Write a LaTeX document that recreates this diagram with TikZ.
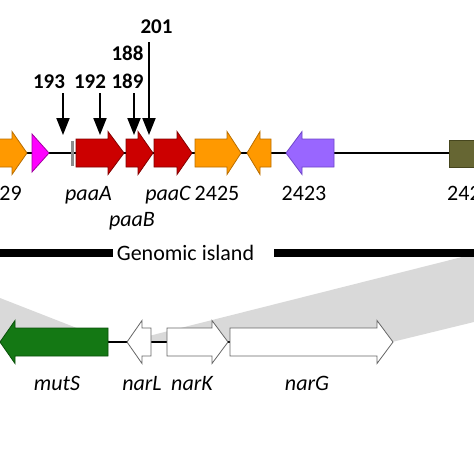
\documentclass[tikz,border=0pt]{standalone}
\usepackage{fontspec}
\setmainfont{Carlito}
\usepackage{xcolor}
\usetikzlibrary{arrows.meta}

\definecolor{redfill}{RGB}{204,0,0}
\definecolor{redline}{RGB}{130,0,0}
\definecolor{orangefill}{RGB}{255,153,0}
\definecolor{orangeline}{RGB}{185,110,0}
\definecolor{magentafill}{RGB}{255,0,255}
\definecolor{magentaline}{RGB}{160,0,160}
\definecolor{purplefill}{RGB}{153,102,255}
\definecolor{purpleline}{RGB}{110,70,200}
\definecolor{olivefill}{RGB}{102,102,51}
\definecolor{oliveline}{RGB}{70,70,30}
\definecolor{greenfill}{RGB}{20,120,20}
\definecolor{greenline}{RGB}{10,80,10}
\definecolor{syntenygray}{RGB}{217,217,217}

% gene arrows: style, start x, head base x, tip x, axis y
\newcommand{\generight}[5]{\draw[#1] ({#2},{#5-14}) -- ({#3},{#5-14}) -- ({#3},{#5-21.5}) -- ({#4},{#5}) -- ({#3},{#5+21.5}) -- ({#3},{#5+14}) -- ({#2},{#5+14}) -- cycle;}
% style, tip x, head base x, end x, axis y
\newcommand{\geneleft}[5]{\draw[#1] ({#4},{#5-14}) -- ({#3},{#5-14}) -- ({#3},{#5-21.5}) -- ({#2},{#5}) -- ({#3},{#5+21.5}) -- ({#3},{#5+14}) -- ({#4},{#5+14}) -- cycle;}

\begin{document}
\begin{tikzpicture}[x=1pt,y=-1pt]
\tikzstyle{track}=[line width=1.5pt]
\tikzstyle{redgene}=[fill=redfill,draw=redline,line width=0.8pt]
\tikzstyle{orangegene}=[fill=orangefill,draw=orangeline,line width=0.8pt]
\tikzstyle{whitegene}=[fill=white,draw=black!60,line width=0.8pt]
\tikzstyle{genename}=[font=\fontsize{22}{26}\selectfont\itshape,inner sep=0pt,anchor=base]
\tikzstyle{genenum}=[font=\fontsize{22}{26}\selectfont,inner sep=0pt,anchor=base]
\tikzstyle{sitenum}=[font=\fontsize{21}{25}\selectfont\bfseries,inner sep=0pt,anchor=base]
\tikzstyle{site}=[line width=2pt,-{Triangle[width=13pt,length=17pt]}]
\tikzstyle{islandbar}=[line width=8pt]

\useasboundingbox (0,0) rectangle (474,474);
\clip (0,0) rectangle (474,474);

% shaded regions
\fill[syntenygray] (0,298) -- (110,341) -- (0,342) -- cycle;
\fill[syntenygray] (125,342) -- (474,254) -- (474,322) -- (392,342) -- cycle;

% top locus
\coordinate (TopStart) at (-5,153);
\coordinate (TopEnd) at (449,153);
\draw[track] (TopStart) -- (TopEnd);
\generight{orangegene}{-10}{12}{27}{153}
\draw[fill=magentafill,draw=magentaline,line width=0.8pt] (32,134) -- (49,153) -- (32,172) -- cycle;
\fill[black!45] (71,141) rectangle (73.5,166);
\generight{redgene}{76}{108}{124}{153}
\generight{redgene}{126}{138}{153}{153}
\generight{redgene}{154}{177}{192}{153}
\generight{orangegene}{195}{227}{241}{153}
\geneleft{orangegene}{247}{260}{271}{153}
\geneleft{fill=purplefill,draw=purpleline,line width=0.8pt}{286}{302}{334}{153}
\draw[fill=olivefill,draw=oliveline,line width=0.8pt] (449,140) rectangle (490,167);

\node[genenum,anchor=base east] (G2429) at (22,200) {29};
\node[genename] (PaaA) at (88.5,200) {paaA};
\node[genename] (PaaB) at (132,226) {paaB};
\node[genename] (PaaC) at (168,200) {paaC};
\node[genenum] (G2425) at (217,200) {2425};
\node[genenum] (G2423) at (304,200) {2423};
\node[genenum,anchor=base west] (G242) at (447,200) {242};

% insertion sites
\node[sitenum] (N193) at (49,88) {193};
\node[sitenum] (N192) at (90,88) {192};
\node[sitenum] (N189) at (127.5,88) {189};
\node[sitenum] (N188) at (127.5,60) {188};
\node[sitenum] (N201) at (156.5,33) {201};
\coordinate (T193) at (63,93);
\coordinate (H193) at (63,135);
\coordinate (T192) at (100,93);
\coordinate (H192) at (100,135);
\coordinate (T189) at (134,93);
\coordinate (H189) at (134,135);
\coordinate (T201) at (149,42);
\coordinate (H201) at (149,135);
\draw[site] (T193) -- (H193);
\draw[site] (T192) -- (H192);
\draw[site] (T189) -- (H189);
\draw[site] (T201) -- (H201);

% genomic island
\node[genenum] (Island) at (185.5,260) {Genomic island};
\coordinate (IslandL) at (0,253);
\coordinate (IslandLE) at (113,253);
\coordinate (IslandRS) at (274,253);
\coordinate (IslandR) at (474,253);
\draw[islandbar] (IslandL) -- (IslandLE);
\draw[islandbar] (IslandRS) -- (IslandR);

% bottom locus
\coordinate (BotStart) at (0,342);
\coordinate (BotEnd) at (393,342);
\draw[track] (BotStart) -- (BotEnd);
\geneleft{fill=greenfill,draw=greenline,line width=0.8pt}{0}{15}{108}{342}
\geneleft{whitegene}{127}{142}{151}{342}
\generight{whitegene}{167}{212}{228}{342}
\generight{whitegene}{230}{377}{393}{342}

\node[genename] (MutS) at (57,390) {mutS};
\node[genename] (NarL) at (142,390) {narL};
\node[genename] (NarK) at (192,390) {narK};
\node[genename] (NarG) at (307,390) {narG};

\end{tikzpicture}
\end{document}
